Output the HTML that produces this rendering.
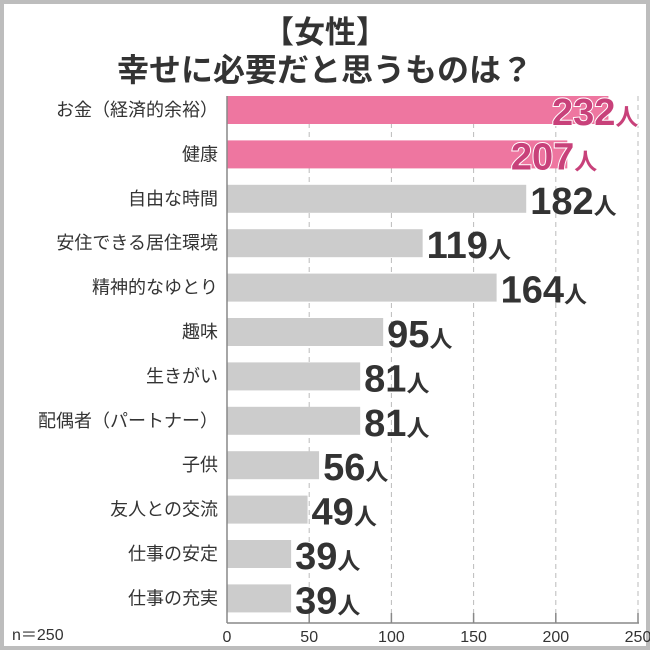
<!DOCTYPE html>
<html><head><meta charset="utf-8"><style>
body{margin:0;background:#fff;}
svg{display:block;font-family:"Liberation Sans","Noto Sans CJK JP",sans-serif;}
</style></head><body>
<svg id="c" width="650" height="650">
<rect x="2" y="2" width="646" height="646" fill="#fff" stroke="#bdbdbd" stroke-width="4"/>
<text x="325" y="43" text-anchor="middle" font-size="31" font-weight="bold" fill="#333">【女性】</text>
<text x="325" y="81" text-anchor="middle" font-size="32" font-weight="bold" fill="#333">幸せに必要だと思うものは？</text>
<text x="12" y="640" font-size="16" fill="#333">n＝250</text>
<g id="g"></g>
</svg>
<script>
const categories=["お金（経済的余裕）","健康","自由な時間","安住できる居住環境","精神的なゆとり","趣味","生きがい","配偶者（パートナー）","子供","友人との交流","仕事の安定","仕事の充実"];
const values=[232,207,182,119,164,95,81,81,56,49,39,39];
const highlight=[true,true,false,false,false,false,false,false,false,false,false,false];
const ticks=[0,50,100,150,200,250];
const NS="http://www.w3.org/2000/svg";
const g=document.getElementById('g');
const x0=227,k=1.644,yTop=96,yAxis=623,step=44.4,barH=28,firstC=110;
const xs=v=>x0+v*k;
const yc=i=>firstC+i*step;
function mk(t,a){const e=document.createElementNS(NS,t);for(const p in a)e.setAttribute(p,a[p]);g.appendChild(e);return e;}
ticks.forEach((t,i)=>{
 if(t>0){const l=mk('line',{x1:xs(t),x2:xs(t),y1:yTop,y2:yAxis-10,stroke:'#bbb','stroke-dasharray':'5,4'});
 
 
 const tk=mk('line',{x1:xs(t),x2:xs(t),y1:yAxis-10,y2:yAxis,stroke:'#888','stroke-width':1.5});
 
 }
 const tl=mk('text',{x:xs(t),y:642,'text-anchor':'middle','font-size':16,fill:'#333'});tl.textContent=t;
 
 
});
categories.forEach((c,i)=>{
 const y=yc(i),v=values[i],hi=highlight[i];
 const b=mk('rect',{x:x0,y:y-barH/2,width:v*k,height:barH,fill:hi?'#ee76a0':'#cccccc'});
 
 
 const lb=mk('text',{x:218,y:y+6,'text-anchor':'end','font-size':18,fill:'#333'});lb.textContent=c;
 
 
 const vt=mk('text',{x:hi?xs(v)+30:xs(v)+4,y:y+15,'font-size':38,'font-weight':'bold',fill:hi?'#c8417a':'#333','text-anchor':hi?'end':'start',stroke:hi?'#fff':'none','stroke-width':hi?2:0,'paint-order':'stroke'});
 const s1=document.createElementNS(NS,'tspan');s1.textContent=v;vt.appendChild(s1);
 const s2=document.createElementNS(NS,'tspan');s2.setAttribute('font-size','23');s2.textContent='人';vt.appendChild(s2);
 
 
});
const ax=mk('line',{x1:x0,x2:x0,y1:yTop,y2:yAxis,stroke:'#888','stroke-width':1.5});


const bx=mk('line',{x1:x0,x2:xs(250)+1,y1:yAxis,y2:yAxis,stroke:'#888','stroke-width':1.5});


</script>
</body></html>
